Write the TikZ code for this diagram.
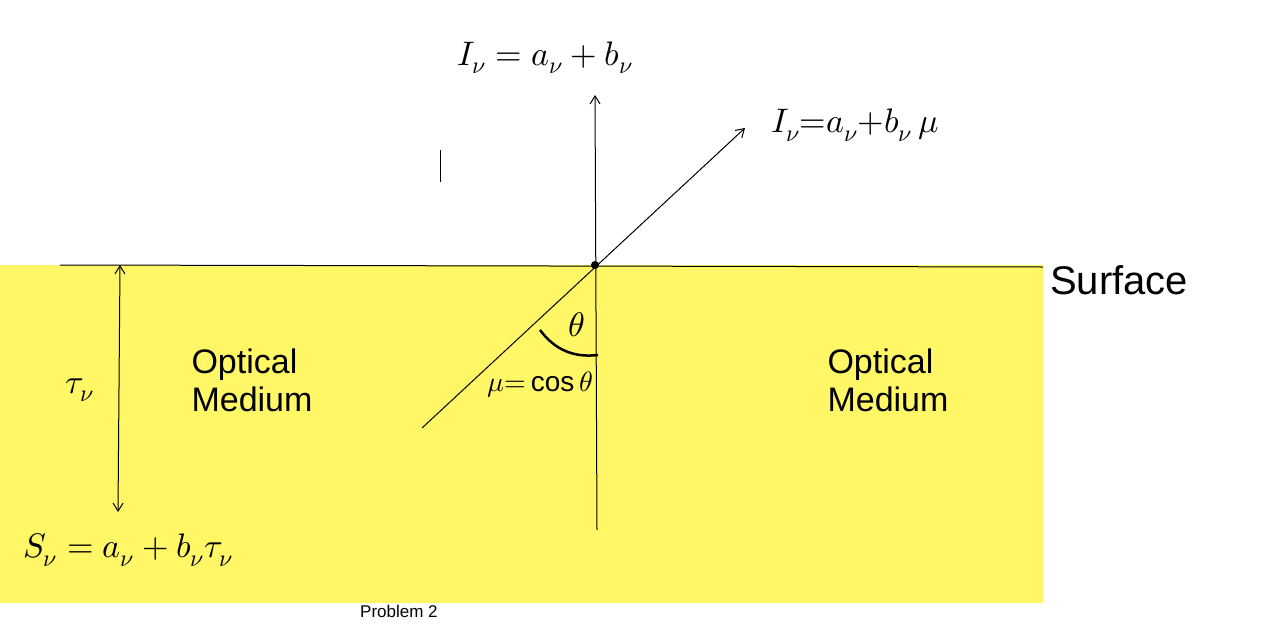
\documentclass[tikz,border=0pt]{standalone}
\usepackage{fontspec}
\usepackage{unicode-math}
\setmathfont{Latin Modern Math}
\setmainfont{Liberation Sans}
\usetikzlibrary{arrows.meta}
\tikzset{lab/.style={font=\fontsize{34}{38}\selectfont, inner sep=0pt}, ln/.style={line width=1pt}, tip/.style={-{Straight Barb[length=8pt,width=10pt]}}}
\begin{document}
\begin{tikzpicture}[x=1pt,y=-1pt]
\useasboundingbox (0,0) rectangle (1274,624);
\fill[white] (0,0) rectangle (1274,624);
\fill[yellow!60!white] (0,265) rectangle (1043,603);
\coordinate (sl) at (60,265); \coordinate (sr) at (1043,267);
\draw[ln] (sl) -- (sr);
\coordinate (o) at (595,265);
\coordinate (vt) at (595,95); \coordinate (vb) at (597,530);
\draw[ln,tip] (vb) -- (vt);
\coordinate (d0) at (422,428); \coordinate (d1) at (745,128);
\draw[ln,tip] (d0) -- (d1);
\fill (o) circle (4);
\draw[line width=2.5pt] (540,330) to[bend right=30] (598,355);
\coordinate (t0) at (120,265); \coordinate (t1) at (118,512);
\draw[ln,{Straight Barb[length=8pt,width=10pt]}-{Straight Barb[length=8pt,width=10pt]}] (t0) -- (t1);
\draw[ln] (440,150) -- (440,182);
\node[lab] (i1) at (545,58) {$I_\nu = a_\nu + b_\nu$};
\node[lab] (i2) at (855,125) {$I_\nu{=}a_\nu{+}b_\nu\,\mu$};
\node[lab,anchor=west,font=\fontsize{40}{44}\selectfont] (surf) at (1050,280) {Surface};
\node[lab] (th) at (577,325) {$\theta$};
\node[lab,font=\fontsize{28}{32}\selectfont] (mu) at (540,385) {$\mu{=}\cos\theta$};
\node[lab,align=left] (om1) at (252,380) {Optical\\Medium};
\node[lab,align=left] (om2) at (888,380) {Optical\\Medium};
\node[lab] (tau) at (80,390) {$\tau_\nu$};
\node[lab] (s) at (128,550) {$S_\nu = a_\nu + b_\nu\tau_\nu$};
\node[lab,anchor=north west,font=\fontsize{17}{18}\selectfont] (pb) at (360,605) {Problem 2};
\end{tikzpicture}
\end{document}
